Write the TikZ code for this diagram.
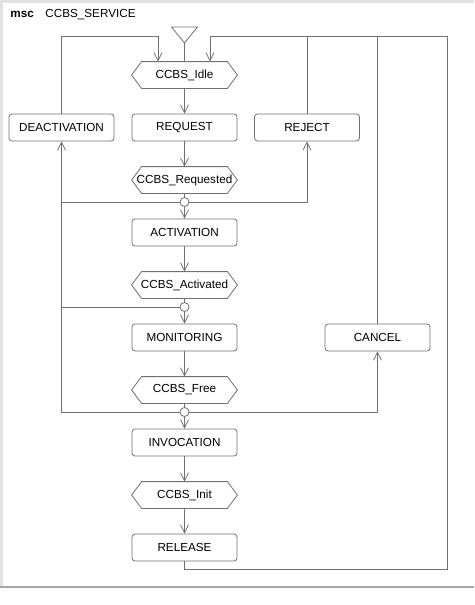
\documentclass[tikz,border=0pt]{standalone}
\usepackage{fontspec}
\setmainfont{Liberation Sans}
\usetikzlibrary{arrows.meta}
\definecolor{MscGray}{HTML}{707070}
\definecolor{FrameGray}{HTML}{E2E2E2}

\begin{document}
\begin{tikzpicture}[x=1pt,y=-1pt,line width=0.8pt,
    font=\fontsize{11.7}{13}\selectfont,
    flow/.style={draw=MscGray,-{Straight Barb[length=8pt,width=8pt]}},
    line/.style={draw=MscGray},
    task/.style={draw=MscGray,rounded corners=3pt,minimum width=105pt,minimum height=27pt,inner sep=0pt},
    state/.style={minimum width=105pt,minimum height=26pt,inner sep=0pt},
    junction/.style={circle,draw=MscGray,fill=white,minimum size=9pt,inner sep=0pt}]
  \useasboundingbox (0,0) rectangle (474,605);
  % frame
  \fill[FrameGray] (0,0) rectangle (474,3);
  \fill[FrameGray] (0,0) rectangle (2.5,587);
  \draw[line width=1.4pt,draw=black!35] (0,587) -- (474,587);
  \node[anchor=west,inner sep=0pt,font=\fontsize{11.7}{13}\selectfont\bfseries] (mscword) at (10,14.5) {msc};
  \node[anchor=west,inner sep=0pt] (mscname) at (45,14.5) {CCBS\_SERVICE};

  % start symbol
  \coordinate (start) at (184.5,43);
  \draw[line] (171.5,27) -- (197.5,27) -- (start) -- cycle;

  % states and tasks
  \node[state] (idle) at (184.5,75) {CCBS\_Idle};
  \node[task] (deact) at (61.5,127.5) {DEACTIVATION};
  \node[task] (request) at (184.5,127.5) {REQUEST};
  \node[task] (reject) at (307,127.5) {REJECT};
  \node[state] (requested) at (184.5,180) {CCBS\_Requested};
  \node[task] (activation) at (184.5,232.5) {ACTIVATION};
  \node[state] (activated) at (184.5,285) {CCBS\_Activated};
  \node[task] (monitoring) at (184.5,337.5) {MONITORING};
  \node[task] (cancel) at (377.5,337.5) {CANCEL};
  \node[state] (free) at (184.5,390) {CCBS\_Free};
  \node[task] (invocation) at (184.5,442.5) {INVOCATION};
  \node[state] (init) at (184.5,495) {CCBS\_Init};
  \node[task] (release) at (184.5,547.5) {RELEASE};
  \foreach \s in {idle,requested,activated,free,init}
    \draw[line] ([xshift=10pt]\s.north west) -- ([xshift=-10pt]\s.north east) -- (\s.east)
      -- ([xshift=-10pt]\s.south east) -- ([xshift=10pt]\s.south west) -- (\s.west) -- cycle;

  % loop corners
  \coordinate (topL) at (158,36);
  \coordinate (topR) at (210,36);
  \coordinate (loopR) at (447,569);

  % main flow
  \draw[line] (start) -- (idle.north);
  \draw[flow] (idle) -- (request);
  \draw[flow] (request) -- (requested);
  \draw[line] (requested.south) -- (184.5,202);
  \draw[flow] (184.5,202) -- (activation);
  \draw[flow] (activation) -- (activated);
  \draw[line] (activated.south) -- (184.5,307);
  \draw[flow] (184.5,307) -- (monitoring);
  \draw[flow] (monitoring) -- (free);
  \draw[line] (free.south) -- (184.5,412);
  \draw[flow] (184.5,412) -- (invocation);
  \draw[flow] (invocation) -- (init);
  \draw[flow] (init) -- (release);

  % junctions
  \node[junction] (j1) at (184.5,202) {};
  \node[junction] (j2) at (184.5,307) {};
  \node[junction] (j3) at (184.5,412) {};

  % branches
  \draw[line] (j1.west) -- (j1 -| deact);
  \draw[flow] (j1.east) -| (reject.south);
  \draw[line] (j2.west) -- (j2 -| deact);
  \draw[flow] (j3.west) -| (deact.south);
  \draw[flow] (j3.east) -| (cancel.south);

  % loops back to CCBS_Idle
  \draw[flow] (deact.north) |- (topL) -- (topL |- idle.north);
  \draw[flow] (release.south) |- (loopR) |- (topR) -- (topR |- idle.north);
  \draw[line] (reject.north) -- (reject |- topR);
  \draw[line] (cancel.north) -- (cancel |- topR);
\end{tikzpicture}
\end{document}
